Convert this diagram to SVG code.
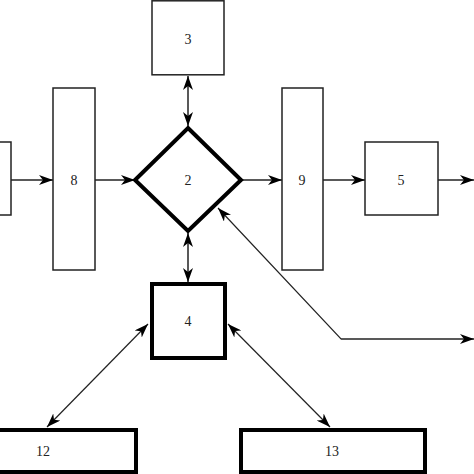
<svg xmlns="http://www.w3.org/2000/svg" width="474" height="474" viewBox="0 0 474 474">
<style>
.thin{fill:#fff;stroke:#222;stroke-width:1.5}
.thick{fill:#fff;stroke:#000;stroke-width:4;stroke-linejoin:miter}
.lbl{font-family:"Liberation Serif",serif;font-size:14px;fill:#222;text-anchor:middle;dominant-baseline:central}
.c{fill:none;stroke:#222;stroke-width:1.5}
.d{fill:none;stroke:#222;stroke-width:1.2}
</style>
<defs>
<marker id="ah" viewBox="0 0 14 10" refX="14" refY="5" markerWidth="14" markerHeight="10" markerUnits="userSpaceOnUse" orient="auto-start-reverse">
<path d="M0,0 L14,5 L0,10 L4,5 z" fill="#000"/>
</marker>
</defs>
<g id="connectors">
<line class="c" x1="11" y1="180" x2="53" y2="180" marker-end="url(#ah)"/>
<line class="c" x1="95" y1="180" x2="135" y2="180" marker-end="url(#ah)"/>
<line class="c" x1="243" y1="180" x2="282" y2="180" marker-end="url(#ah)"/>
<line class="c" x1="323" y1="180" x2="365" y2="180" marker-end="url(#ah)"/>
<line class="c" x1="438" y1="180" x2="474" y2="180" marker-end="url(#ah)"/>
<line class="c" x1="188" y1="76" x2="188" y2="126" marker-start="url(#ah)" marker-end="url(#ah)"/>
<line class="c" x1="188" y1="233" x2="188" y2="282" marker-start="url(#ah)" marker-end="url(#ah)"/>
<line class="d" x1="148" y1="324" x2="47" y2="427" marker-start="url(#ah)" marker-end="url(#ah)"/>
<line class="d" x1="228" y1="324" x2="330" y2="427" marker-start="url(#ah)" marker-end="url(#ah)"/>
<polyline class="d" points="474,339 341,339 218,208" marker-end="url(#ah)"/>
<line class="d" x1="341" y1="339" x2="474" y2="339" marker-end="url(#ah)"/>
</g>
<g id="node1"><rect class="thin" x="-10" y="142" width="21" height="73"/></g>
<g id="node8"><rect class="thin" x="53" y="88" width="42" height="182"/><text class="lbl" x="74" y="180">8</text></g>
<g id="node2"><polygon class="thick" points="188,128 241,180 188,231 135,180"/><text class="lbl" x="188" y="180">2</text></g>
<g id="node3"><rect class="thin" x="152" y="0.8" width="72" height="74"/><text class="lbl" x="188" y="39">3</text></g>
<g id="node9"><rect class="thin" x="282" y="88" width="41" height="182"/><text class="lbl" x="302" y="180">9</text></g>
<g id="node5"><rect class="thin" x="365" y="142" width="73" height="73"/><text class="lbl" x="401" y="180">5</text></g>
<g id="node4"><rect class="thick" x="152" y="284" width="73" height="74"/><text class="lbl" x="188" y="321">4</text></g>
<g id="node12"><rect class="thick" x="-10" y="430" width="146" height="42"/><text class="lbl" x="43" y="451">12</text></g>
<g id="node13"><rect class="thick" x="241" y="430" width="184" height="42"/><text class="lbl" x="332" y="451">13</text></g>
</svg>
